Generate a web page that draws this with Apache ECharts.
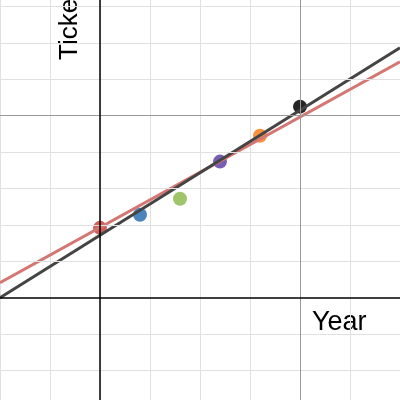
<!DOCTYPE html>
<html><head><meta charset="utf-8">
<script src="https://cdn.jsdelivr.net/npm/echarts@6/dist/echarts.min.js"></script>
<style>html,body{margin:0;padding:0;background:#fff}#c{width:400px;height:400px}</style>
</head><body><div id="c"></div>
<script>
var pointX = [0, 0.8, 1.6, 2.4, 3.2, 4.0];
var pointY = [1.92, 2.28, 2.72, 3.74, 4.45, 5.25];
var pointColors = ['#c74440', '#2d70b3', '#8fba4f', '#6042a6', '#fa7e19', '#000000'];
var redLine = [[-2, 0.41], [6, 6.48]];
var darkLine = [[-2, 0.0], [6, 6.87]];
var minorY = [-2, -1, 1, 2, 3, 4, 6, 7, 8];
var chart = echarts.init(document.getElementById('c'));
var gridLines = minorY.map(function (v) { return {yAxis: v, lineStyle: {color: '#e0e0e0', width: 1, type: 'solid'}}; });
chart.setOption({
  animation: false,
  grid: {left: 0, right: 0, top: 0, bottom: 0},
  xAxis: {type: 'value', min: -2, max: 6, interval: 1,
    axisLine: {show: false}, axisTick: {show: false}, axisLabel: {show: false},
    splitLine: {lineStyle: {color: '#e0e0e0', width: 1}}},
  yAxis: {type: 'value', min: -2.81, max: 8.18,
    axisLine: {show: false}, axisTick: {show: false}, axisLabel: {show: false},
    splitLine: {show: false}},
  graphic: [
    {type: 'text', position: [57, 60], rotation: Math.PI / 2,
     style: {text: 'Ticket Prices', font: '26px "Liberation Sans", Arial', fill: '#000'}},
    {type: 'text', position: [312, 309],
     style: {text: 'Year', font: '27px "Liberation Sans", Arial', fill: '#000'}}
  ],
  series: [
    {type: 'line', data: [], silent: true,
     markLine: {symbol: 'none', silent: true, label: {show: false},
       data: gridLines.concat([
         {xAxis: 4, lineStyle: {color: '#999', width: 1, type: 'solid'}},
         {yAxis: 5, lineStyle: {color: '#999', width: 1, type: 'solid'}},
         {xAxis: 0, lineStyle: {color: '#000', width: 1.5, type: 'solid'}},
         {yAxis: 0, lineStyle: {color: '#000', width: 1.5, type: 'solid'}}
       ])}},
    {type: 'line', data: redLine, symbol: 'none', lineStyle: {color: '#d47773', width: 3}},
    {type: 'line', data: darkLine, symbol: 'none', lineStyle: {color: '#444', width: 3}},
    {type: 'scatter', symbolSize: 14,
     data: pointX.map(function (x, i) {
       return {value: [x, pointY[i]], itemStyle: {color: pointColors[i], opacity: 0.85}};
     })}
  ]
});
</script></body></html>
